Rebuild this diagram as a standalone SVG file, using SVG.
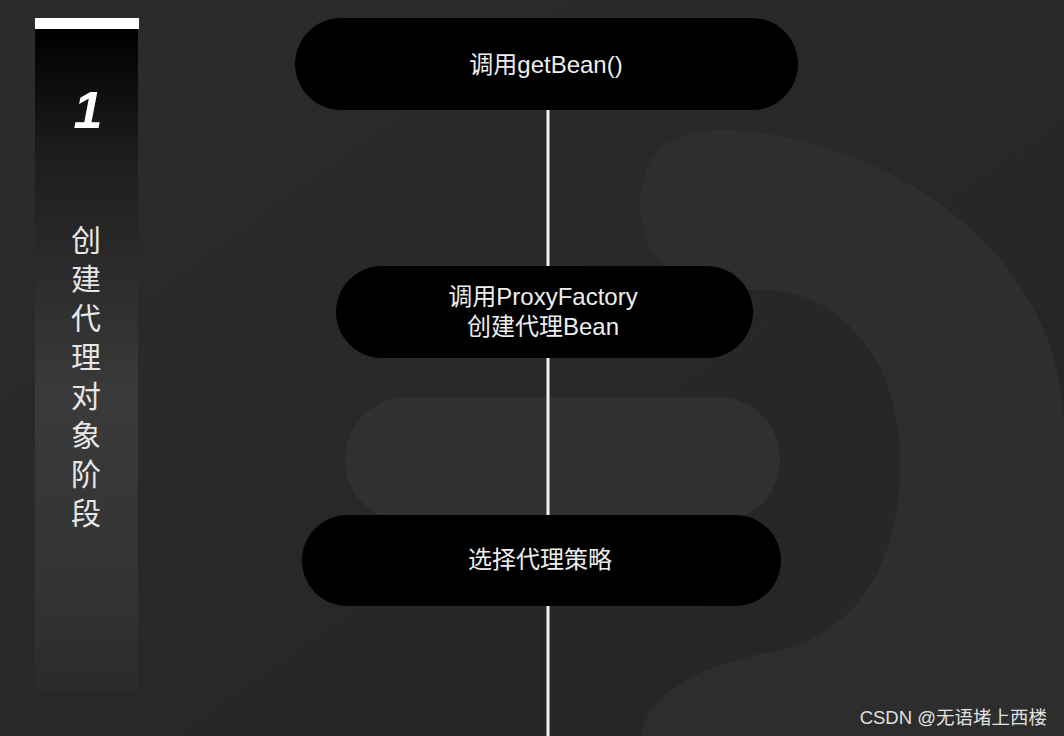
<svg xmlns="http://www.w3.org/2000/svg" width="1064" height="736" viewBox="0 0 1064 736">
<defs>
<linearGradient id="side" x1="0" y1="0" x2="0" y2="1">
<stop offset="0" stop-color="#000"/>
<stop offset="0.2" stop-color="#1e1e1e"/>
<stop offset="0.55" stop-color="#3a3a3a"/>
<stop offset="0.85" stop-color="#333"/>
<stop offset="1" stop-color="#2b2b2b"/>
</linearGradient>
<linearGradient id="bg" x1="0" y1="0" x2="1" y2="1">
<stop offset="0" stop-color="#2c2c2c"/>
<stop offset="1" stop-color="#242424"/>
</linearGradient>
<style>
.pill{fill:#000}
.lbl{font-family:"Liberation Sans","Noto Sans CJK SC",sans-serif;font-size:24px;fill:#eeeeee;text-anchor:middle}
.side{font-family:"Liberation Sans","Noto Sans CJK SC",sans-serif;font-size:30px;fill:#e6e6e6;text-anchor:middle}
.conn{stroke:#f2f2f2;stroke-width:3;fill:none}
</style>
</defs>
<rect width="1064" height="736" fill="url(#bg)"/>
<!-- decorative background shapes -->
<path d="M640 210 C640 150 670 128 730 130 C900 140 1064 260 1064 430 L1064 736 L640 736 C650 690 700 665 780 650 C860 630 900 560 900 460 C900 360 840 290 760 290 C700 290 660 270 645 240 Z" fill="#2e2e2e"/>
<path d="M760 290 C840 290 900 360 900 460 C900 560 860 630 780 650 L780 520 C780 420 770 290 760 290 Z" fill="#272727"/>
<rect x="345" y="397" width="435" height="125" rx="62" fill="#303030"/>
<path d="M640 736 C650 690 700 665 780 650 C900 625 1000 600 1064 560 L1064 736 Z" fill="#2d2d2d"/>

<g id="sidebar">
<rect x="35" y="29" width="103" height="662" fill="url(#side)"/>
<rect x="35" y="18" width="104" height="11" fill="#ffffff"/>
<text x="88" y="128" font-family="Liberation Sans, sans-serif" font-size="52" font-style="italic" font-weight="bold" fill="#ffffff" text-anchor="middle">1</text>
<text class="side" x="86" y="251">创</text>
<text class="side" x="86" y="290">建</text>
<text class="side" x="86" y="329">代</text>
<text class="side" x="86" y="368">理</text>
<text class="side" x="86" y="407">对</text>
<text class="side" x="86" y="446">象</text>
<text class="side" x="86" y="485">阶</text>
<text class="side" x="86" y="524">段</text>
</g>

<g id="connectors">
<line class="conn" x1="548" y1="110" x2="548" y2="267"/>
<line class="conn" x1="548" y1="358" x2="548" y2="516"/>
<line class="conn" x1="548" y1="606" x2="548" y2="736"/>
</g>

<g id="node1">
<rect class="pill" x="295" y="18" width="503" height="92" rx="46"/>
<text class="lbl" x="546" y="73">调用getBean()</text>
</g>
<g id="node2">
<rect class="pill" x="336" y="266" width="417" height="92" rx="46"/>
<text class="lbl" x="543" y="305">调用ProxyFactory</text>
<text class="lbl" x="543" y="335">创建代理Bean</text>
</g>
<g id="node3">
<rect class="pill" x="302" y="515" width="479" height="91" rx="45.5"/>
<text class="lbl" x="540" y="568">选择代理策略</text>
</g>

<text x="1047" y="724" font-family="Liberation Sans, Noto Sans CJK SC, sans-serif" font-size="18.5" fill="#e0e0e0" text-anchor="end">CSDN @无语堵上西楼</text>
</svg>
